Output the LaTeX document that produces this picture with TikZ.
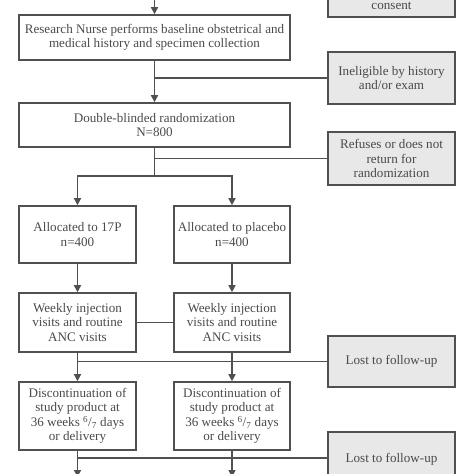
\documentclass[tikz,border=0pt]{standalone}
\usepackage{fontspec}
\setmainfont{Liberation Serif}
\usetikzlibrary{arrows.meta}
\definecolor{ln}{HTML}{505050}
\definecolor{tx}{HTML}{4A4A4A}
\definecolor{sidefill}{HTML}{E8E8E8}
\begin{document}
\begin{tikzpicture}[x=1pt,y=-1pt,
 box/.style={draw=ln, line width=1.6pt, text=tx, align=center, font=\fontsize{13.1}{14.5}\selectfont, inner sep=0pt},
 sidebox/.style={box, fill=sidefill, minimum width=127pt},
 arr/.style={draw=ln, line width=1.5pt, -{Triangle[length=7pt,width=7pt]}},
 con/.style={draw=ln, line width=1.5pt}]
\useasboundingbox (0,0) rectangle (474,474);
\clip (0,0) rectangle (474,474);
% main column
\node[box, minimum width=271pt, minimum height=45pt] (nurse) at (154.5,37.5) {Research Nurse performs baseline obstetrical and\\medical history and specimen collection};
\node[box, minimum width=271pt, minimum height=44pt] (rand) at (154.5,125) {Double-blinded randomization\\N=800};
\node[box, minimum width=117pt, minimum height=57pt] (a17) at (77.5,234.5) {Allocated to 17P\\n=400};
\node[box, minimum width=116pt, minimum height=57pt] (apl) at (232,234.5) {Allocated to placebo\\n=400};
\node[box, minimum width=117pt, minimum height=59pt] (w17) at (77.5,322.5) {Weekly injection\\visits and routine\\ANC visits};
\node[box, minimum width=116pt, minimum height=59pt] (wpl) at (232,322.5) {Weekly injection\\visits and routine\\ANC visits};
\node[box, minimum width=117pt, minimum height=68pt] (d17) at (77.5,416) {Discontinuation of\\study product at\\36 weeks \textsuperscript{6}/\textsubscript{7} days\\or delivery};
\node[box, minimum width=116pt, minimum height=68pt] (dpl) at (232,416) {Discontinuation of\\study product at\\36 weeks \textsuperscript{6}/\textsubscript{7} days\\or delivery};
% side column
\node[sidebox, text height=40pt, text depth=8pt, anchor=base] (consent) at (391.5,9) {consent};
\node[sidebox, minimum height=52pt] (inelig) at (391.5,78) {Ineligible by history\\and/or exam};
\node[sidebox, minimum height=53pt] (refuses) at (391.5,158.5) {Refuses or does not\\return for\\randomization};
\node[sidebox, minimum height=51pt] (lost1) at (391.5,361.5) {Lost to follow-up};
\node[sidebox, text height=30pt, text depth=22pt, anchor=base] (lost2) at (391.5,462) {Lost to follow-up};
% connectors
\coordinate (top) at (154.5,-5);
\coordinate (split) at (154.5,176);
\coordinate (e17) at (77.5,477);
\coordinate (epl) at (232,477);
\draw[arr] (top) -- (nurse.north);
\draw[arr] (nurse) -- (rand);
\draw[con] (nurse.south |- inelig.west) -- (inelig.west);
\draw[con] (rand.south) -- (split);
\draw[con] (rand.south |- refuses.west) -- (refuses.west);
\draw[arr] (split) -| (a17.north);
\draw[arr] (split) -| (apl.north);
\draw[arr] (a17) -- (w17);
\draw[arr] (apl) -- (wpl);
\draw[con] (w17) -- (wpl);
\draw[arr] (w17) -- (d17);
\draw[arr] (wpl) -- (dpl);
\draw[con] (w17.south |- lost1.west) -- (lost1.west);
\draw[arr] (d17) -- (e17);
\draw[arr] (dpl) -- (epl);
\draw[con] (d17.south |- lost2.west) -- (lost2.west);
\end{tikzpicture}
\end{document}
